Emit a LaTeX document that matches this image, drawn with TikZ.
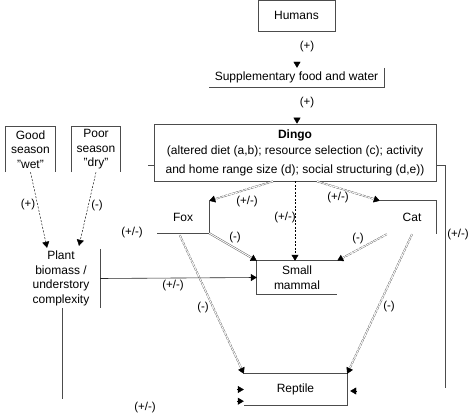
\documentclass[tikz,border=0pt]{standalone}
\usepackage{fontspec}
\setmainfont{Liberation Sans}
\usetikzlibrary{arrows.meta,calc}
\tikzset{
  box/.style={inner sep=0pt, align=center, font=\fontsize{12}{14.5}\selectfont},
  rim/.style={draw=black!70, line width=0.7pt},
  sign/.style={inner sep=1pt, font=\fontsize{11.5}{13}\selectfont},
  tip/.style={-{Triangle[length=6pt,width=7pt,color=black]}},
  solidarr/.style={tip, draw=black!85, line width=0.6pt},
  dasharr/.style={tip, line width=0.45pt, dash pattern=on 2pt off 1.5pt},
  dblarr/.style={tip, draw=black!60, double=white, double distance=0.9pt, line width=0.45pt, dash pattern=on 3pt off 1pt},
  dblline/.style={tip, draw=black!60, double=white, double distance=0.9pt, line width=0.5pt}
}
\begin{document}
\begin{tikzpicture}[x=1pt,y=-1pt]
\useasboundingbox (0,0) rectangle (474,414);
% top of the chain
\node[box,rim,draw,minimum width=77,minimum height=30.5] (humans) at (296.5,15.75) {Humans};
\node[box,minimum width=175,minimum height=19] (supp) at (296.5,77.5) {Supplementary food and water};
\draw[rim] (supp.north east) -- (supp.south east) -- (supp.south west);
\node[sign] (plus1) at (307,47) {(+)};
\coordinate (t1) at (297,62);
\draw[tip] (t1) -- (t1 |- supp.north);
\node[sign] (plus2) at (307,103) {(+)};
\node[box,rim,draw,minimum width=282,minimum height=57] (dingo) at (295,152.5)
  {\textbf{Dingo}\\[2pt](altered diet (a,b); resource selection (c); activity\\[4pt]and home range size (d); social structuring (d,e))};
\coordinate (t2) at (297,118);
\draw[tip] (t2) -- (t2 |- dingo.north);
\coordinate (dr) at (445,165);
\coordinate (drb) at (445,388);
\draw[rim] (dingo.east |- dr) -- (dr) -- (drb);
\node[sign] (lright) at (458,235) {(+/-)};
\coordinate (dl) at (148,165);
\draw[rim] (dingo.west |- dl) -- (dl);
% seasons and plants
\node[box,minimum width=49,minimum height=45] (good) at (30.5,149.5) {Good\\season\\"wet"};
\draw[rim] (good.south west) -- (good.north west) -- (good.north east) -- (good.south east);
\node[box,minimum width=48,minimum height=45] (poor) at (96,149.5) {Poor\\season\\"dry"};
\draw[rim] (poor.south west) -- (poor.north west) -- (poor.north east) -- (poor.south east);
\node[box,minimum width=78,minimum height=59] (plant) at (61,278.5) {Plant\\biomass /\\understory\\complexity};
\draw[rim] (plant.north east) -- (plant.south east);
\coordinate (pb) at (62,399);
\draw[rim] (plant.south -| pb) -- (pb);
\draw[dasharr] (good.south) -- ($(plant.north)+(-14,-1)$);
\draw[dasharr] (poor.south) -- ($(plant.north)+(18,-3)$);
\node[sign] (lwet) at (28,205) {(+)};
\node[sign] (ldry) at (97,206) {(-)};
\node[sign] (lleft) at (132,233) {(+/-)};
\node[sign] (lbottom) at (145,408) {(+/-)};
% predators and prey
\node[box,minimum width=52,minimum height=32] (fox) at (183,217) {Fox};
\draw[rim] (fox.north east) -- (fox.south east) -- (fox.south west);
\node[box,minimum width=56,minimum height=33] (cat) at (408,217.5) {\hspace*{8pt}Cat};
\draw[rim] (cat.north west) -- (cat.north east) -- (cat.south east);
\node[box,minimum width=80,minimum height=33] (mammal) at (297,277.5) {Small\\mammal};
\draw[rim] (mammal.north east) -- (mammal.north west) -- (mammal.south west) -- (mammal.south east);
\node[box,minimum width=103,minimum height=31] (reptile) at (295.5,389.5) {Reptile};
\draw[rim] (reptile.north west) -- (reptile.north east) -- (reptile.south east) -- (reptile.south west);
\draw[dblarr] ($(dingo.south)+(-22,0)$) -- (fox.north east);
\node[sign] (lfox) at (247,202) {(+/-)};
\draw[dasharr] (dingo.south) -- (dingo.south |- mammal.north);
\node[sign] (lmid) at (285,218) {(+/-)};
\draw[dblarr] ($(dingo.south)+(22,0)$) -- (cat.north west);
\node[sign] (lcat) at (338,198) {(+/-)};
\draw[dblline] (fox.south east) -- (mammal.north west);
\node[sign] (lfm) at (235,238) {(-)};
\draw[dblarr] ($(cat.south west)+(7,0)$) -- (mammal.north east);
\node[sign] (lcm) at (358,239) {(-)};
\draw[dblarr] ($(fox.south west)+(23,2)$) -- (reptile.north west);
\node[sign] (lfr) at (203,308) {(-)};
\draw[dblarr] ($(cat.south)+(4,0)$) -- (reptile.north east);
\node[sign] (lcr) at (389,307) {(-)};
\draw[solidarr] (plant.east) -- (mammal.west);
\node[sign] (lpm) at (173,286) {(+/-)};
\draw[tip] ($(reptile.west)+(-7,0)$) -- (reptile.west);
\draw[tip] ($(reptile.south west)+(-7,-4)$) -- ($(reptile.south west)+(0,-4)$);
\draw[tip] ($(reptile.east)+(10,1.5)$) -- ($(reptile.east)+(3,1.5)$);
\end{tikzpicture}
\end{document}
